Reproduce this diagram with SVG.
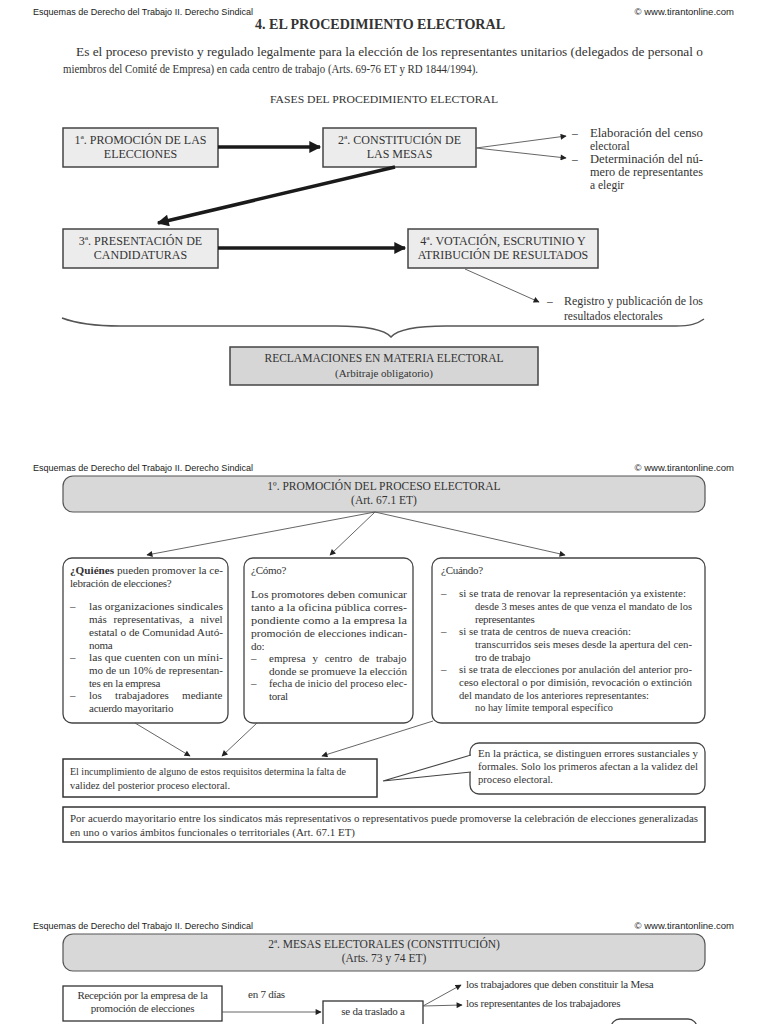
<svg xmlns="http://www.w3.org/2000/svg" width="768" height="1024" viewBox="0 0 768 1024">
<style>
.hdr{font-family:"Liberation Sans",Arial,sans-serif;font-size:9.5px;fill:#222}
.t{font-family:"Liberation Serif","Times New Roman",serif;fill:#333}
.cap{font-size:12px}
.b{font-size:11px}
.n{letter-spacing:-0.25px}
.box{fill:#ececec;stroke:#444;stroke-width:1.5}
.gbox{fill:#d8d8d8;stroke:#555;stroke-width:1.2}
.wbox{fill:#fff;stroke:#444;stroke-width:1.3}
.thick{stroke:#1a1a1a;stroke-width:3.5;fill:none}
.thin{stroke:#555;stroke-width:0.9;fill:none}
</style>
<defs>
<marker id="ah" viewBox="0 0 10 10" refX="9" refY="5" markerWidth="4" markerHeight="3.4" orient="auto" markerUnits="strokeWidth"><path d="M0,0 L10,5 L0,10 z" fill="#1a1a1a"/></marker>
<marker id="as" viewBox="0 0 10 10" refX="9" refY="5" markerWidth="7" markerHeight="6" orient="auto" markerUnits="userSpaceOnUse"><path d="M0,0 L10,5 L0,10 z" fill="#222"/></marker>
</defs>
<rect width="768" height="1024" fill="#fff"/>

<!-- PAGE 1 -->
<g id="page1-header">
<text class="hdr" x="33" y="15" textLength="220" lengthAdjust="spacingAndGlyphs">Esquemas de Derecho del Trabajo II. Derecho Sindical</text>
<text class="hdr" x="734" y="15" text-anchor="end">© www.tirantonline.com</text>
</g>
<g id="title">
<text class="t" x="380" y="29" text-anchor="middle" font-size="15.5" font-weight="bold" textLength="250" lengthAdjust="spacingAndGlyphs">4. EL PROCEDIMIENTO ELECTORAL</text>
</g>
<g id="intro">
<text class="t" x="76" y="56" font-size="13.5" textLength="627" lengthAdjust="spacingAndGlyphs">Es el proceso previsto y regulado legalmente para la elección de los representantes unitarios (delegados de personal o</text>
<text class="t" x="63" y="73" font-size="13.5" textLength="415" lengthAdjust="spacingAndGlyphs">miembros del Comité de Empresa) en cada centro de trabajo (Arts. 69-76 ET y RD 1844/1994).</text>
</g>
<g id="fases-title">
<text class="t" x="384" y="103" text-anchor="middle" font-size="11" textLength="228" lengthAdjust="spacingAndGlyphs">FASES DEL PROCEDIMIENTO ELECTORAL</text>
</g>

<g id="fase1">
<rect class="box" x="63" y="128" width="155" height="39"/>
<text class="t cap" x="140.5" y="144" text-anchor="middle">1ª. PROMOCIÓN DE LAS</text>
<text class="t cap" x="140.5" y="158" text-anchor="middle">ELECCIONES</text>
</g>
<g id="fase2">
<rect class="box" x="323" y="128" width="153" height="39"/>
<text class="t cap" x="399.5" y="144" text-anchor="middle">2ª. CONSTITUCIÓN DE</text>
<text class="t cap" x="399.5" y="158" text-anchor="middle">LAS MESAS</text>
</g>
<g id="fase3">
<rect class="box" x="63" y="229" width="155" height="39"/>
<text class="t cap" x="140.5" y="245" text-anchor="middle">3ª. PRESENTACIÓN DE</text>
<text class="t cap" x="140.5" y="259" text-anchor="middle">CANDIDATURAS</text>
</g>
<g id="fase4">
<rect class="box" x="408" y="229" width="190" height="39"/>
<text class="t cap" x="503" y="245" text-anchor="middle">4ª. VOTACIÓN, ESCRUTINIO Y</text>
<text class="t cap" x="503" y="259" text-anchor="middle">ATRIBUCIÓN DE RESULTADOS</text>
</g>
<g id="notas-mesas">
<text class="t" font-size="11.5" x="572" y="137">–</text>
<text class="t" font-size="11.5" x="590" y="137" textLength="113" lengthAdjust="spacingAndGlyphs">Elaboración del censo</text>
<text class="t" font-size="11.5" x="590" y="150">electoral</text>
<text class="t" font-size="11.5" x="572" y="163">–</text>
<text class="t" font-size="11.5" x="590" y="163" textLength="113" lengthAdjust="spacingAndGlyphs">Determinación del nú-</text>
<text class="t" font-size="11.5" x="590" y="176" textLength="113" lengthAdjust="spacingAndGlyphs">mero de representantes</text>
<text class="t" font-size="11.5" x="590" y="189">a elegir</text>
</g>
<g id="notas-votacion">
<text class="t" font-size="11.5" x="547" y="305">–</text>
<text class="t" font-size="11.5" x="564" y="305" textLength="139" lengthAdjust="spacingAndGlyphs">Registro y publicación de los</text>
<text class="t" font-size="11.5" x="564" y="320">resultados electorales</text>
</g>
<g id="llave">
<path d="M62,318 C78,324 96,326 120,326 L336,326 C364,326 384,329 391,337 C398,329 418,326 446,326 L676,326 C690,326 697,324 704,319" fill="none" stroke="#555" stroke-width="1.5"/>
</g>
<g id="reclamaciones">
<rect x="230" y="347" width="308" height="38" fill="#d6d6d6" stroke="#444" stroke-width="1.5"/>
<text class="t" font-size="11.5" x="384" y="362" text-anchor="middle">RECLAMACIONES EN MATERIA ELECTORAL</text>
<text class="t" font-size="11" x="384" y="377" text-anchor="middle">(Arbitraje obligatorio)</text>
</g>

<!-- PAGE 2 -->
<g id="page2-header">
<text class="hdr" x="33" y="471" textLength="220" lengthAdjust="spacingAndGlyphs">Esquemas de Derecho del Trabajo II. Derecho Sindical</text>
<text class="hdr" x="734" y="471" text-anchor="end">© www.tirantonline.com</text>
</g>
<g id="promocion-titulo">
<rect class="gbox" x="63" y="476" width="642" height="36" rx="10"/>
<text class="t" font-size="11.5" x="384" y="490" text-anchor="middle">1º. PROMOCIÓN DEL PROCESO ELECTORAL</text>
<text class="t" font-size="11.5" x="384" y="504" text-anchor="middle">(Art. 67.1 ET)</text>
</g>
<g id="quienes">
<rect class="wbox" x="63" y="558" width="165" height="165" rx="9"/>
<text class="t b" x="70" y="574" textLength="153" lengthAdjust="spacingAndGlyphs"><tspan font-weight="bold">¿Quiénes</tspan> pueden promover la ce-</text>
<text class="t b n" x="70" y="587">lebración de elecciones?</text>
<text class="t b" x="70" y="610">–</text>
<text class="t b" x="89" y="610" textLength="134" lengthAdjust="spacingAndGlyphs">las organizaciones sindicales</text>
<text class="t b" x="89" y="623" word-spacing="4">más representativas, a nivel</text>
<text class="t b" x="89" y="636" textLength="134" lengthAdjust="spacingAndGlyphs">estatal o de Comunidad Autó-</text>
<text class="t b n" x="89" y="649">noma</text>
<text class="t b" x="70" y="661">–</text>
<text class="t b" x="89" y="661" textLength="134" lengthAdjust="spacingAndGlyphs">las que cuenten con un míni-</text>
<text class="t b" x="89" y="674" textLength="134" lengthAdjust="spacingAndGlyphs">mo de un 10% de representan-</text>
<text class="t b n" x="89" y="687">tes en la empresa</text>
<text class="t b" x="70" y="699">–</text>
<text class="t b" x="89" y="699" word-spacing="10.5">los trabajadores mediante</text>
<text class="t b n" x="89" y="712">acuerdo mayoritario</text>
</g>
<g id="como">
<rect class="wbox" x="244" y="558" width="169" height="165" rx="9"/>
<text class="t b n" x="251" y="574">¿Cómo?</text>
<text class="t b" x="251" y="598" textLength="156" lengthAdjust="spacingAndGlyphs">Los promotores deben comunicar</text>
<text class="t b" x="251" y="611" textLength="156" lengthAdjust="spacingAndGlyphs">tanto a la oficina pública corres-</text>
<text class="t b" x="251" y="624" textLength="156" lengthAdjust="spacingAndGlyphs">pondiente como a la empresa la</text>
<text class="t b" x="251" y="637" textLength="156" lengthAdjust="spacingAndGlyphs">promoción de elecciones indican-</text>
<text class="t b n" x="251" y="650">do:</text>
<text class="t b" x="251" y="662">–</text>
<text class="t b" x="269" y="662" word-spacing="4">empresa y centro de trabajo</text>
<text class="t b" x="269" y="675" textLength="138" lengthAdjust="spacingAndGlyphs">donde se promueve la elección</text>
<text class="t b" x="251" y="687">–</text>
<text class="t b" x="269" y="687" textLength="138" lengthAdjust="spacingAndGlyphs">fecha de inicio del proceso elec-</text>
<text class="t b n" x="269" y="700">toral</text>
</g>
<g id="cuando">
<rect class="wbox" x="432" y="558" width="273" height="165" rx="9"/>
<text class="t b n" x="441" y="574">¿Cuándo?</text>
<text class="t b" x="441" y="597">–</text>
<text class="t b" x="459" y="597" textLength="227" lengthAdjust="spacingAndGlyphs">si se trata de renovar la representación ya existente:</text>
<text class="t b" x="475" y="610" textLength="217" lengthAdjust="spacingAndGlyphs">desde 3 meses antes de que venza el mandato de los</text>
<text class="t b n" x="475" y="623">representantes</text>
<text class="t b" x="441" y="635">–</text>
<text class="t b" x="459" y="635" textLength="172" lengthAdjust="spacingAndGlyphs">si se trata de centros de nueva creación:</text>
<text class="t b" x="475" y="648" textLength="217" lengthAdjust="spacingAndGlyphs">transcurridos seis meses desde la apertura del cen-</text>
<text class="t b n" x="475" y="661">tro de trabajo</text>
<text class="t b" x="441" y="673">–</text>
<text class="t b" x="459" y="673" textLength="233" lengthAdjust="spacingAndGlyphs">si se trata de elecciones por anulación del anterior pro-</text>
<text class="t b" x="459" y="686" textLength="233" lengthAdjust="spacingAndGlyphs">ceso electoral o por dimisión, revocación o extinción</text>
<text class="t b" x="459" y="699" textLength="190" lengthAdjust="spacingAndGlyphs">del mandato de los anteriores representantes:</text>
<text class="t b" x="475" y="711" textLength="138" lengthAdjust="spacingAndGlyphs">no hay límite temporal específico</text>
</g>
<g id="incumplimiento">
<rect x="63" y="759" width="314" height="38" fill="#fff" stroke="#333" stroke-width="1.5"/>
<text class="t b" x="70" y="775" textLength="276" lengthAdjust="spacingAndGlyphs">El incumplimiento de alguno de estos requisitos determina la falta de</text>
<text class="t b" x="70" y="789" textLength="160" lengthAdjust="spacingAndGlyphs">validez del posterior proceso electoral.</text>
</g>
<g id="practica">
<rect class="wbox" x="470" y="743" width="235" height="51" rx="9"/>
<polyline points="471,755 383,781 471,772" fill="#fff" stroke="#444" stroke-width="1.1"/>
<line x1="470" y1="756" x2="470" y2="771" stroke="#fff" stroke-width="2.5"/>
<text class="t b" x="478" y="757" textLength="220" lengthAdjust="spacingAndGlyphs">En la práctica, se distinguen errores sustanciales y</text>
<text class="t b" x="478" y="770" textLength="220" lengthAdjust="spacingAndGlyphs">formales. Solo los primeros afectan a la validez del</text>
<text class="t b" x="478" y="783" textLength="75" lengthAdjust="spacingAndGlyphs">proceso electoral.</text>
</g>
<g id="acuerdo">
<rect x="63" y="807" width="642" height="35" fill="#fff" stroke="#333" stroke-width="1.5"/>
<text class="t b" x="70" y="822" textLength="628" lengthAdjust="spacingAndGlyphs">Por acuerdo mayoritario entre los sindicatos más representativos o representativos puede promoverse la celebración de elecciones generalizadas</text>
<text class="t b" x="70" y="836" textLength="285" lengthAdjust="spacingAndGlyphs">en uno o varios ámbitos funcionales o territoriales (Art. 67.1 ET)</text>
</g>

<!-- PAGE 3 -->
<g id="page3-header">
<text class="hdr" x="33" y="929" textLength="220" lengthAdjust="spacingAndGlyphs">Esquemas de Derecho del Trabajo II. Derecho Sindical</text>
<text class="hdr" x="734" y="929" text-anchor="end">© www.tirantonline.com</text>
</g>
<g id="mesas-titulo">
<rect class="gbox" x="63" y="934" width="642" height="37" rx="10"/>
<text class="t" font-size="11.5" x="384" y="948" text-anchor="middle">2ª. MESAS ELECTORALES (CONSTITUCIÓN)</text>
<text class="t" font-size="11.5" x="384" y="962" text-anchor="middle">(Arts. 73 y 74 ET)</text>
</g>
<g id="recepcion">
<rect x="63" y="986" width="159" height="35" fill="#fff" stroke="#333" stroke-width="1.3"/>
<text class="t b n" x="142.5" y="999" text-anchor="middle">Recepción por la empresa de la</text>
<text class="t b n" x="142.5" y="1012" text-anchor="middle">promoción de elecciones</text>
</g>
<g id="label-7dias">
<text class="t b n" x="248" y="998">en 7 días</text>
</g>
<g id="traslado">
<rect x="323" y="1001" width="100" height="30" fill="#fff" stroke="#333" stroke-width="1.3"/>
<text class="t b n" x="373" y="1015" text-anchor="middle">se da traslado a</text>
</g>
<g id="destinatarios">
<text class="t b n" x="466" y="988">los trabajadores que deben constituir la Mesa</text>
<text class="t b n" x="466" y="1007">los representantes de los trabajadores</text>
</g>
<g id="siguiente">
<rect class="wbox" x="611" y="1019" width="86" height="30" rx="9"/>
</g>

<g id="connectors">
<line class="thick" x1="218" y1="147" x2="320" y2="147" marker-end="url(#ah)"/>
<line class="thick" x1="395" y1="167" x2="158" y2="223" marker-end="url(#ah)"/>
<line class="thick" x1="218" y1="248" x2="405" y2="248" marker-end="url(#ah)"/>
<line class="thin" x1="476" y1="148" x2="566" y2="136" marker-end="url(#as)"/>
<line class="thin" x1="476" y1="148" x2="566" y2="158" marker-end="url(#as)"/>
<line class="thin" x1="465" y1="269" x2="539" y2="302" marker-end="url(#as)"/>
<line class="thin" x1="375" y1="512" x2="147" y2="555" marker-end="url(#as)"/>
<line class="thin" x1="375" y1="512" x2="330" y2="555" marker-end="url(#as)"/>
<line class="thin" x1="375" y1="512" x2="565" y2="555" marker-end="url(#as)"/>
<line class="thin" x1="135" y1="723" x2="190" y2="756" marker-end="url(#as)"/>
<line class="thin" x1="257" y1="723" x2="222" y2="756" marker-end="url(#as)"/>
<line class="thin" x1="433" y1="721" x2="322" y2="756" marker-end="url(#as)"/>
<line class="thin" x1="222" y1="1012" x2="321" y2="1012" marker-end="url(#as)"/>
<line class="thin" x1="423" y1="1006" x2="461" y2="985" marker-end="url(#as)"/>
<line class="thin" x1="423" y1="1006" x2="462" y2="1005" marker-end="url(#as)"/>
</g>
</svg>
